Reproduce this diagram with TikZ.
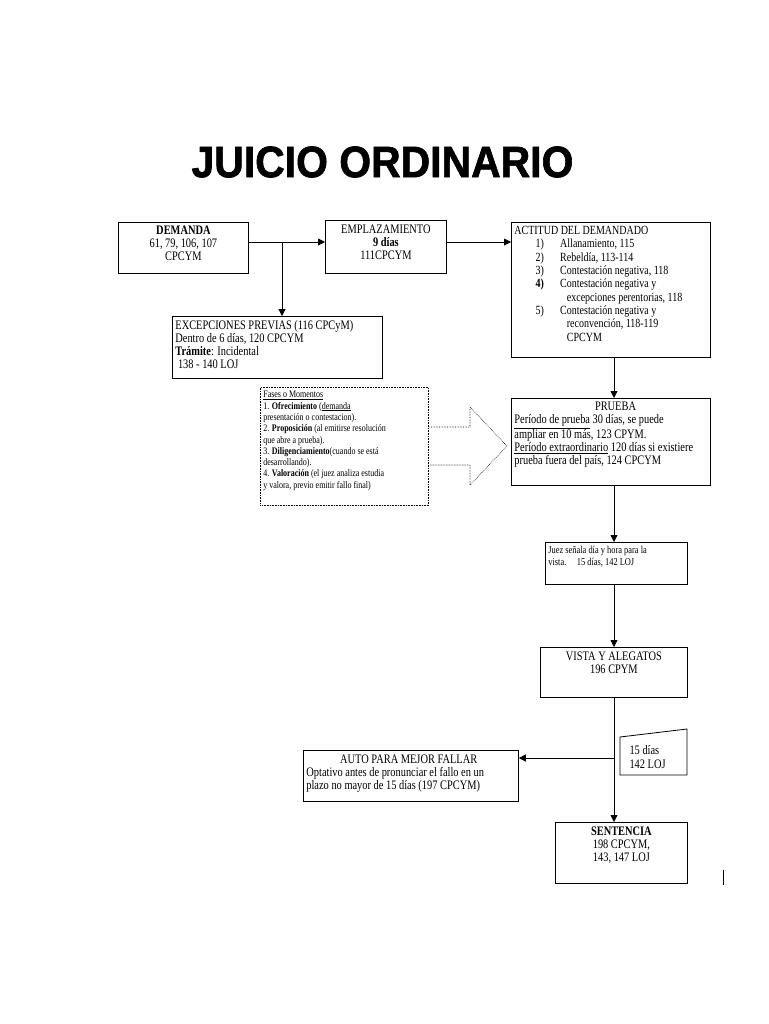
\documentclass[tikz,border=0pt]{standalone}
\usepackage{fontspec}
\setmainfont{Liberation Serif}[FakeStretch=0.8]
\newfontfamily\titlefont{Liberation Sans}[FakeBold=1.5]
\usetikzlibrary{arrows.meta}
\newcommand{\tb}[3]{\parbox[c][#2pt][t]{#1pt}{\vspace*{1pt}#3}}
\begin{document}
\begin{tikzpicture}[x=1pt,y=-1pt,
  box/.style={draw,line width=0.8pt,inner sep=3pt,anchor=north west,font=\fontsize{13}{13}\selectfont},
  arr/.style={-{Triangle[length=7pt,width=7pt]},line width=0.8pt},
  ln/.style={line width=0.8pt}]
\useasboundingbox (0,0) rectangle (768,1024);
\node[anchor=west] (title) at (188,162) {\scalebox{0.93}[1]{\titlefont\bfseries\fontsize{44}{44}\selectfont JUICIO ORDINARIO}};
\node[box] (dem) at (118,222) {\tb{124}{45}{\centering\textbf{DEMANDA}\\61, 79, 106, 107\\CPCYM}};
\node[box] (emp) at (325,220) {\tb{115}{47}{\centering EMPLAZAMIENTO\\\textbf{9 días}\\111CPCYM}};
\node[box,font=\fontsize{12.5}{13.3}\selectfont] (act) at (511,222) {\tb{193}{129}{ACTITUD DEL DEMANDADO\\
\hspace*{1.7em}1)\hspace{1.3em}Allanamiento, 115\\
\hspace*{1.7em}2)\hspace{1.3em}Rebeldía, 113-114\\
\hspace*{1.7em}3)\hspace{1.3em}Contestación negativa, 118\\
\hspace*{1.7em}\textbf{4)}\hspace{1.3em}Contestación negativa y\\
\hspace*{4.2em}excepciones perentorias, 118\\
\hspace*{1.7em}5)\hspace{1.3em}Contestación negativa y\\
\hspace*{4.2em}reconvención, 118-119\\
\hspace*{4.2em}CPCYM}};
\node[box] (exc) at (172,316) {\tb{204}{56}{\raggedright EXCEPCIONES PREVIAS (116 CPCyM)\\Dentro de 6 días, 120 CPCYM\\\textbf{Trámite}: Incidental\\\ 138 - 140 LOJ}};
\node[draw,densely dotted,line width=0.6pt,anchor=north west,inner sep=3pt,font=\fontsize{10}{11.3}\selectfont] (fases) at (260,387) {\tb{162}{112}{\raggedright\underline{Fases o Momentos}\\1. \textbf{Ofrecimiento} (\underline{demanda}\\presentación o contestacion).\\2. \textbf{Proposición} (al emitirse resolución\\que abre a prueba).\\3. \textbf{Diligenciamiento}(cuando se está\\desarrollando).\\4. \textbf{Valoración} (el juez analiza estudia\\y valora, previo emitir fallo final)}};
\draw[densely dotted,line width=0.6pt] (428,427) -- (470,427) -- (470,407) -- (507,446) -- (470,485) -- (470,465) -- (428,465);
\node[box] (pru) at (511,398) {\tb{193}{81}{\raggedright\hspace*{6.2em}PRUEBA\\\underline{Período de prueba} 30 días, se puede\\ampliar en 10 más, 123 CPYM.\\\underline{Período extraordinario} 120 días si existiere\\prueba fuera del país, 124 CPCYM}};
\node[box,font=\fontsize{10.5}{12}\selectfont] (juez) at (545,542) {\tb{136}{36}{\raggedright Juez señala día y hora para la\\vista.\quad 15 días, 142 LOJ}};
\node[box] (vis) at (540,647) {\tb{141}{44}{\centering VISTA Y ALEGATOS\\196 CPYM}};
\node[box] (auto) at (303,750) {\tb{209}{45}{\raggedright\hspace*{2.6em}AUTO PARA MEJOR FALLAR\\Optativo antes de pronunciar el fallo en un\\plazo no mayor de 15 días (197 CPCYM)}};
\node[box] (sen) at (555,822) {\tb{126}{55}{\centering\textbf{SENTENCIA}\\198 CPCYM,\\143, 147 LOJ}};
\draw[ln] (620,737) -- (687,729) -- (687,775) -- (620,775) -- cycle;
\node[align=left,anchor=west,font=\fontsize{13}{14}\selectfont] (dias) at (626,757) {15 días\\142 LOJ};
\draw[ln] (723,870) -- (723,885);
\draw[arr] (dem.east |- 0,242) -- (emp.west |- 0,242);
\coordinate (br) at (282,242);
\draw[arr] (br) -- (br |- exc.north);
\draw[arr] (emp.east |- 0,242) -- (act.west |- 0,242);
\draw[arr] (614,357) -- (614,398);
\draw[arr] (614,485) -- (614,542);
\draw[arr] (614,584) -- (614,647);
\draw[arr] (614,697) -- (614,822);
\coordinate (br2) at (614,758);
\draw[arr] (br2) -- (auto.east |- br2);
\end{tikzpicture}
\end{document}
